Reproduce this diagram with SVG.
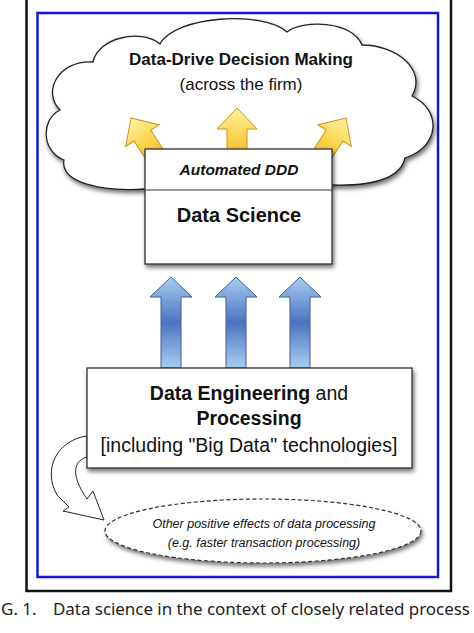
<svg xmlns="http://www.w3.org/2000/svg" width="474" height="633" viewBox="0 0 474 633">
<defs>
<style>
.t{font-family:"Liberation Sans",Arial,sans-serif;fill:#111;text-anchor:middle}
.b{font-weight:bold}
.i{font-style:italic}
.box{fill:#fff;stroke:#333;stroke-width:1.3}
.cap{font-family:"Noto Sans","Open Sans",sans-serif;font-size:17px;fill:#222}
</style>
<filter id="sh" x="-10%" y="-10%" width="130%" height="140%">
<feDropShadow dx="1.5" dy="3" stdDeviation="2" flood-color="#000" flood-opacity="0.55"/>
</filter>
<linearGradient id="yg" x1="0" y1="0" x2="0" y2="1">
<stop offset="0" stop-color="#fff0a0"/>
<stop offset="0.5" stop-color="#fbd24a"/>
<stop offset="1" stop-color="#f2a81c"/>
</linearGradient>
<linearGradient id="bg" x1="0" y1="0" x2="0" y2="1">
<stop offset="0" stop-color="#a8cdf0"/>
<stop offset="0.5" stop-color="#4c74c2"/>
<stop offset="1" stop-color="#a8cdf0"/>
</linearGradient>
<path id="ya" d="M0,0 L20,21 L10,21 L10,60 L-10,60 L-10,21 L-20,21 Z" fill="url(#yg)" stroke="#c8941c" stroke-width="1"/>
<path id="ba" d="M0,0 L21,20 L10,20 L10,91 L-10,91 L-10,20 L-21,20 Z" fill="url(#bg)" stroke="#3c5f98" stroke-width="1"/>
</defs>
<rect width="474" height="633" fill="#fff"/>
<rect x="26.5" y="-5" width="424.5" height="596" fill="none" stroke="#111" stroke-width="2.5"/>
<rect x="37.5" y="13" width="400.5" height="564" fill="none" stroke="#1616e0" stroke-width="2.5"/>

<g id="cloud">
<path filter="url(#sh)" d="M145,189 C100,192 60,182 64,160 C42,152 40,120 60,110 C42,92 58,60 93,62 C98,38 140,28 160,44 C175,16 262,10 287,32 C302,20 352,20 362,45 C397,45 427,70 412,96 C442,110 440,147 405,158 C400,180 370,186 332,185 Z" fill="#fff" stroke="#222" stroke-width="1.3"/>
<text class="t b" x="241" y="65" font-size="17">Data-Drive Decision Making</text>
<text class="t" x="241" y="90" font-size="17">(across the firm)</text>
</g>

<g id="connectors">
<use href="#ya" transform="translate(131,118) rotate(-33)"/>
<use href="#ya" transform="translate(237,108)"/>
<use href="#ya" transform="translate(346,118) rotate(33)"/>
<use href="#ba" transform="translate(171,277)"/>
<use href="#ba" transform="translate(236,277)"/>
<use href="#ba" transform="translate(300,277)"/>
<path d="M87,436 C58,440 42,468 57,495 L69,507 L63,511 L104,520 L93,491 L87,499 C75,482 69,462 87,457 Z" fill="#fff" stroke="#222" stroke-width="1"/>
</g>

<g id="data-science">
<rect class="box" x="145" y="149" width="187" height="115" filter="url(#sh)"/>
<line x1="145" y1="190" x2="332" y2="190" stroke="#333" stroke-width="1.2"/>
<text class="t b i" x="239" y="175" font-size="15.5">Automated DDD</text>
<text class="t b" x="239" y="222" font-size="20">Data Science</text>
</g>

<g id="data-engineering">
<rect class="box" x="87" y="368" width="325" height="100" filter="url(#sh)"/>
<text class="t" x="249" y="400" font-size="19.5"><tspan font-weight="bold">Data Engineering</tspan> and</text>
<text class="t b" x="249" y="425" font-size="19.5">Processing</text>
<text class="t" x="249" y="452" font-size="19.5">[including "Big Data" technologies]</text>
</g>

<g id="other-effects">
<ellipse cx="263" cy="531" rx="158" ry="32" fill="#fff" stroke="#333" stroke-width="1.2" stroke-dasharray="4,2.5" filter="url(#sh)"/>
<text class="t i" x="264" y="528" font-size="12.5">Other positive effects of data processing</text>
<text class="t i" x="264" y="547" font-size="12.5">(e.g. faster transaction processing)</text>
</g>

<text class="cap" x="1" y="615">G. 1.</text>
<text class="cap" x="53" y="615" textLength="417" lengthAdjust="spacing">Data science in the context of closely related process</text>
</svg>
